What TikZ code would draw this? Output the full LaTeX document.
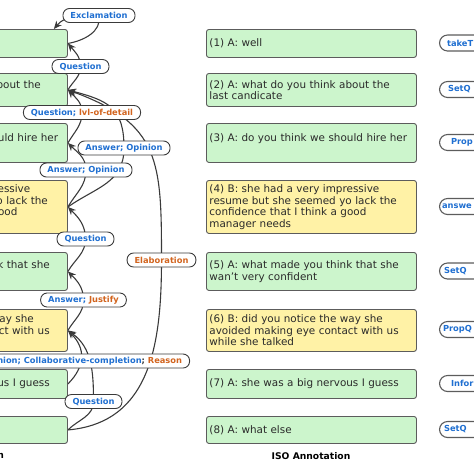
\documentclass[tikz,border=0pt]{standalone}
\usepackage{fontspec}
\setmainfont{DejaVu Sans}
\usepackage{xcolor}
\usetikzlibrary{arrows.meta,backgrounds}
\definecolor{uttgreen}{HTML}{CCF5CC}
\definecolor{uttyellow}{HTML}{FFF2A6}
\definecolor{boxgray}{HTML}{5C5C5C}
\definecolor{edgegray}{HTML}{3A3A3A}
\definecolor{bk90}{HTML}{2A2A2A}
\definecolor{relblue}{HTML}{1F6FD1}
\definecolor{relorange}{HTML}{D2641E}
\newcommand{\uttone}{(1) A: well}
\newcommand{\utttwo}{(2) A: what do you think about the\\last candicate}
\newcommand{\uttthree}{(3) A: do you think we should hire her\\\mbox{}}
\newcommand{\uttfour}{(4) B: she had a very impressive\\resume but she seemed yo lack the\\confidence that I think a good\\manager needs}
\newcommand{\uttfive}{(5) A: what made you think that she\\wan't very confident}
\newcommand{\uttsix}{(6) B: did you notice the way she\\avoided making eye contact with us\\while she talked}
\newcommand{\uttseven}{(7) A: she was a big nervous I guess}
\newcommand{\utteight}{(8) A: what else}
\tikzset{
  uttbox/.style={
    rectangle, draw=boxgray, fill=#1, line width=0.9pt,
    rounded corners=2.5pt, anchor=north west,
    text width=204pt, align=left, inner xsep=3pt, inner ysep=2pt,
    font=\fontsize{10.4}{11.6}\selectfont, text=bk90
  },
  uttbox/.default=uttgreen,
  relbox/.style={
    rectangle, draw=edgegray, fill=white, line width=0.9pt,
    rounded corners=6.5pt, minimum height=14pt,
    inner xsep=7.5pt, inner ysep=1pt,
    font=\fontsize{8.3}{10}\selectfont\bfseries, text=relblue
  },
  relarc/.style={
    -{Stealth[length=8pt,width=7pt]}, line width=1.1pt, draw=edgegray
  },
  isopill/.style={
    rectangle, draw=boxgray, fill=white, line width=1.1pt,
    rounded corners=8pt, minimum height=16pt, anchor=west,
    text width=70pt, align=left, inner xsep=6pt,
    font=\fontsize{8.3}{10}\selectfont\bfseries, text=relblue
  },
  coltitle/.style={
    font=\fontsize{9.2}{11}\selectfont\bfseries, text=black
  },
}
\begin{document}
\begin{tikzpicture}[x=1pt,y=-1pt]
    \useasboundingbox (0,0) rectangle (474,474);
    \clip (0,0) rectangle (474,474);

    % LEFT COLUMN: utterances with relations
    \node[uttbox, minimum height=28pt] (l1) at (-143,29) {\uttone};
    \node[uttbox, minimum height=33pt] (l2) at (-143,73) {\utttwo};
    \node[uttbox, minimum height=39pt] (l3) at (-143,123) {\uttthree};
    \node[uttbox=uttyellow, minimum height=53pt] (l4) at (-143,180) {\uttfour};
    \node[uttbox, minimum height=38pt] (l5) at (-143,252) {\uttfive};
    \node[uttbox=uttyellow, minimum height=42pt] (l6) at (-143,309) {\uttsix};
    \node[uttbox, minimum height=29pt] (l7) at (-143,369) {\uttseven};
    \node[uttbox, minimum height=27pt] (l8) at (-143,416) {\utteight};
    \node[coltitle, anchor=east] (ourtitle) at (7.5,456) {n};

    % MIDDLE COLUMN: ISO annotation
    \node[uttbox, minimum height=28pt] (m1) at (206,29) {\uttone};
    \node[uttbox, minimum height=33pt] (m2) at (206,73) {\utttwo};
    \node[uttbox, minimum height=39pt] (m3) at (206,123) {\uttthree};
    \node[uttbox=uttyellow, minimum height=53pt] (m4) at (206,180) {\uttfour};
    \node[uttbox, minimum height=38pt] (m5) at (206,252) {\uttfive};
    \node[uttbox=uttyellow, minimum height=42pt] (m6) at (206,309) {\uttsix};
    \node[uttbox, minimum height=29pt] (m7) at (206,369) {\uttseven};
    \node[uttbox, minimum height=27pt] (m8) at (206,416) {\utteight};
    \node[coltitle] (isotitle) at (311,456) {ISO Annotation};

    % RIGHT COLUMN: dialogue act pills
    \node[isopill] (i1) at (439,43) {\hspace*{1.5pt}takeT};
    \node[isopill] (i2) at (439,89.5) {\hspace*{2.5pt}SetQ};
    \node[isopill] (i3) at (439,142.5) {\hspace*{5.5pt}Prop};
    \node[isopill] (i4) at (439,206.5) {\hspace*{-3.5pt}answe};
    \node[isopill] (i5) at (439,271) {\hspace*{-1.5pt}SetQ};
    \node[isopill] (i6) at (439,329.5) {\hspace*{-2.5pt}PropQ};
    \node[isopill] (i7) at (439,383.5) {\hspace*{5.5pt}Infor};
    \node[isopill] (i8) at (439,429.5) {\hspace*{-1.5pt}SetQ};

    % Relation labels
    \node[relbox] (exc) at (99,15.5) {Exclamation};
    \node[relbox] (q1) at (80.5,66.5) {Question};
    \node[relbox] (qd) at (82,112.5) {Question; \textcolor{relorange}{lvl-of-detail}};
    \node[relbox] (ao1) at (124,148) {Answer; Opinion};
    \node[relbox] (ao2) at (86,170) {Answer; Opinion};
    \node[relbox] (q2) at (85.5,239) {Question};
    \node[relbox] (elab) at (161.5,260) {\textcolor{relorange}{Elaboration}};
    \node[relbox] (aj) at (83.5,300) {Answer; \textcolor{relorange}{Justify}};
    \node[relbox, anchor=east] (acr) at (190,361)
        {Opinion; Collaborative-completion\textcolor{edgegray}{;} \textcolor{relorange}{Reason}};
    \node[relbox] (q3) at (93.5,401.5) {Question};

    % Relation arcs, behind the labels
    \begin{scope}[on background layer]
        \draw[relarc] (l1.east) to[out=10,in=-80] (exc.center)
            to[out=180,in=50] ([xshift=-14pt]l1.north east);
        \draw[relarc] (l2.east) to[out=60,in=-90] (q1.center) to[out=90,in=-50] (l1.east);
        \draw[relarc] (l3.east) to[out=60,in=-90] (qd.center) to[out=90,in=-45] (l2.east);
        \draw[relarc] (l4.east) to[out=60,in=-90] (ao2.center) to[out=90,in=-45] (l3.east);
        \draw[relarc] (l4.east) to[out=35,in=-90,looseness=1.1] (ao1.center)
            to[out=90,in=-15,looseness=1.3] (l2.east);
        \draw[relarc] (l5.east) to[out=60,in=-90] (q2.center) to[out=90,in=-45] (l4.east);
        \draw[relarc] (l8.east) to[out=5,in=-90,looseness=1.1] (elab.center)
            to[out=90,in=-20,looseness=1.3] (l2.east);
        \draw[relarc] (l6.east) to[out=60,in=-90] (aj.center) to[out=90,in=-45] (l5.east);
        \draw[relarc] (l7.east) to[out=45,in=-45,looseness=1.2] (l6.east);
        \draw[relarc] (l8.east) to[out=45,in=-90] (q3.center) to[out=90,in=-35] (l6.east);
    \end{scope}
\end{tikzpicture}
\end{document}
